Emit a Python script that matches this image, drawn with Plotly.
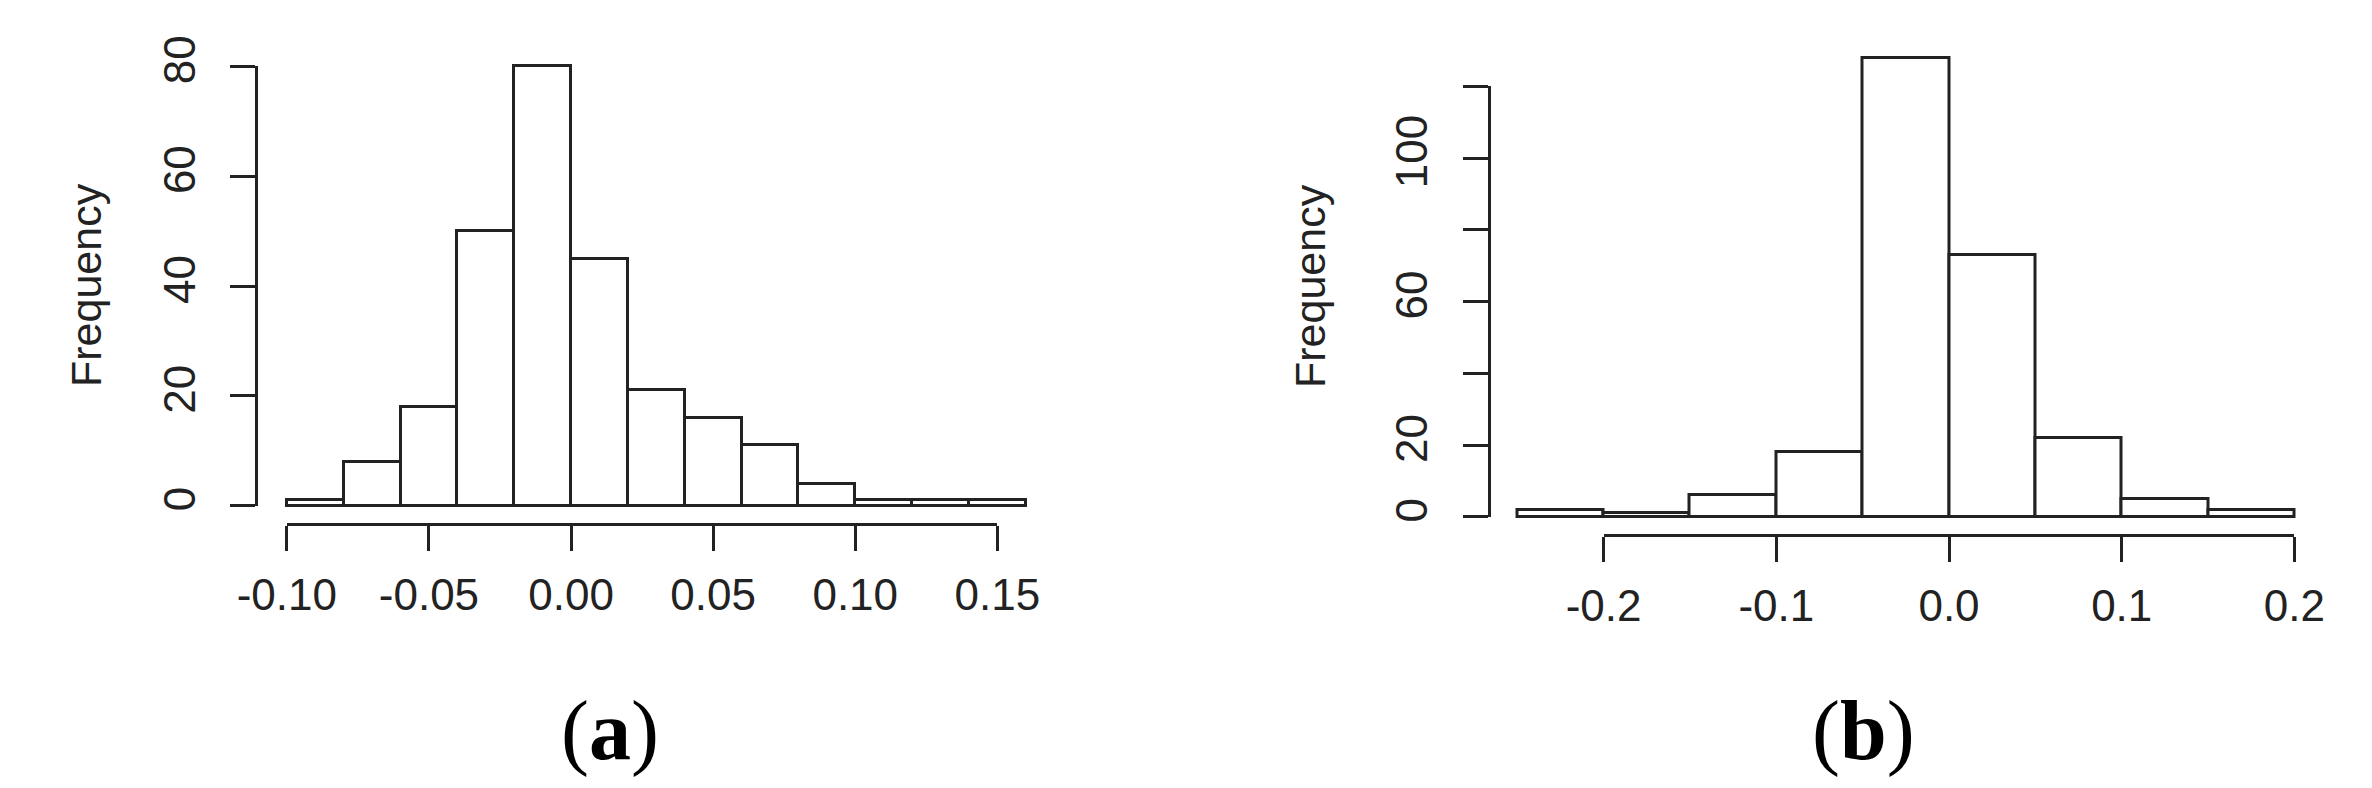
import plotly.graph_objects as go
import numpy as np

# ---- panel (a) ----
a_edges = [-0.10, -0.08, -0.06, -0.04, -0.02, 0.00, 0.02, 0.04, 0.06, 0.08, 0.10, 0.12, 0.14, 0.16]
a_counts = [1, 8, 18, 50, 80, 45, 21, 16, 11, 4, 1, 1, 1]
a_xticks = [-0.10, -0.05, 0.00, 0.05, 0.10, 0.15]
a_xlabels = ["-0.10", "-0.05", "0.00", "0.05", "0.10", "0.15"]
a_yticks = [0, 20, 40, 60, 80]
a_ylabels = ["0", "20", "40", "60", "80"]

# ---- panel (b) ----
b_edges = [-0.25, -0.20, -0.15, -0.10, -0.05, 0.00, 0.05, 0.10, 0.15, 0.20]
b_counts = [2, 1, 6, 18, 128, 73, 22, 5, 2]
b_xticks = [-0.2, -0.1, 0.0, 0.1, 0.2]
b_xlabels = ["-0.2", "-0.1", "0.0", "0.1", "0.2"]
b_yticks = [0, 20, 40, 60, 80, 100, 120]
b_ylabels = ["0", "20", "", "60", "", "100", ""]

W, H = 2372, 788
INK = "#222222"
SANS = "Liberation Sans"
SERIF = "Liberation Serif"

# pixel anchors of each panel (value -> pixel), R style axes
panels = {
    "a": dict(x=(-0.10, 246.5, 0.15, 986.0), y=(0, 498.0, 80, 37.2),
              xline=517.0, yline=214.6, xdom=(0, 1150)),
    "b": dict(x=(-0.2, 1617.0, 0.2, 2336.0), y=(0, 509.7, 120, 58.0),
              xline=529.0, yline=1497.5, xdom=(1186, W)),
}


def px_to_val(anchor, p):
    v0, p0, v1, p1 = anchor
    return v0 + (p - p0) * (v1 - v0) / (p1 - p0)


fig = go.Figure()

def add_hist(edges, counts, idx):
    edges = np.array(edges)
    mids = (edges[:-1] + edges[1:]) / 2
    widths = np.diff(edges)
    sx = "" if idx == 1 else str(idx)
    fig.add_trace(go.Bar(
        x=mids, y=counts, width=widths,
        marker=dict(color="white", line=dict(color=INK, width=3)),
        xaxis="x" + sx, yaxis="y" + sx,
        showlegend=False, hoverinfo="x+y",
    ))

add_hist(a_edges, a_counts, 1)
add_hist(b_edges, b_counts, 2)
# empty traces so the tick-only axes get drawn
fig.add_trace(go.Scatter(x=[], y=[], xaxis="x3", yaxis="y3", showlegend=False))
fig.add_trace(go.Scatter(x=[], y=[], xaxis="x4", yaxis="y4", showlegend=False))

hidden = dict(showgrid=False, zeroline=False, showticklabels=False, showline=False, ticks="")
tickfont = dict(family=SANS, size=44, color=INK)

layout = dict(
    autosize=True, margin=dict(l=0, r=0, t=0, b=0, pad=0),
    paper_bgcolor="white", plot_bgcolor="rgba(0,0,0,0)",
    bargap=0, showlegend=False,
)

for idx, key, xt, xl, yt, yl in [(1, "a", a_xticks, a_xlabels, a_yticks, a_ylabels),
                                 (2, "b", b_xticks, b_xlabels, b_yticks, b_ylabels)]:
    p = panels[key]
    d0, d1 = p["xdom"]
    sx = "" if idx == 1 else str(idx)
    layout[f"xaxis{sx}"] = dict(hidden, domain=[d0 / W, d1 / W],
                                range=[px_to_val(p["x"], d0), px_to_val(p["x"], d1)],
                                anchor=f"y{sx}")
    layout[f"yaxis{sx}"] = dict(hidden, domain=[0, 1],
                                range=[px_to_val(p["y"], H), px_to_val(p["y"], 0)],
                                anchor=f"x{sx}")
    # tick axes, spanning first to last tick only
    t = idx + 2
    xv0, xp0, xv1, xp1 = p["x"]
    yv0, yp0, yv1, yp1 = p["y"]
    layout[f"xaxis{t}"] = dict(
        domain=[xp0 / W, xp1 / W], range=[xv0, xv1], anchor="free",
        position=1 - p["xline"] / H, showgrid=False, zeroline=False,
        showline=True, linecolor=INK, linewidth=3,
        ticks="outside", ticklen=25, tickwidth=3, tickcolor=INK,
        tickmode="array", tickvals=xt, ticktext=xl, tickfont=tickfont,
        ticklabelstandoff=6,
    )
    layout[f"yaxis{t}"] = dict(
        domain=[1 - yp0 / H, 1 - yp1 / H], range=[yv0, yv1], anchor="free",
        position=p["yline"] / W, showgrid=False, zeroline=False,
        showline=True, linecolor=INK, linewidth=3,
        ticks="outside", ticklen=25, tickwidth=3, tickcolor=INK,
        tickmode="array", tickvals=yt, ticktext=yl, tickfont=tickfont,
        tickangle=-90, ticklabelstandoff=18,
    )

fig.update_layout(**layout)

# y titles and panel letters
for xp, yp in [(38, 267), (1312, 268)]:
    fig.add_annotation(x=xp / W, y=1 - yp / H, xref="paper", yref="paper",
                       text="Frequency", textangle=-90, showarrow=False,
                       xanchor="center", yanchor="middle",
                       font=dict(family=SANS, size=43, color=INK))
for xp, letter in [(583, "a"), (1887, "b")]:
    fig.add_annotation(x=xp / W, y=1 - 735 / H, xref="paper", yref="paper",
                       text=f"(<b>{letter}</b>)", showarrow=False,
                       xanchor="center", yanchor="middle",
                       font=dict(family=SERIF, size=84, color="black"))

fig.write_html(
    "out.html",
    config={"responsive": True, "displayModeBar": False},
    post_script="document.body.style.margin='0';document.body.style.overflow='hidden';"
                "window.dispatchEvent(new Event('resize'));",
)
